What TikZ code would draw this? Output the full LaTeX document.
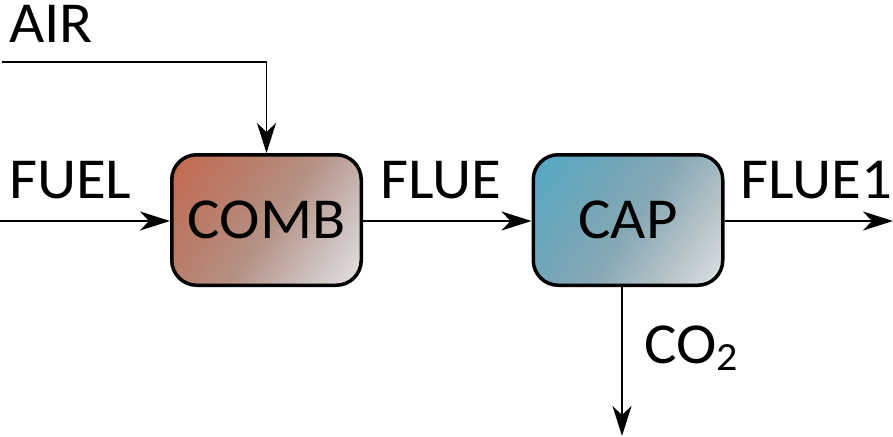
\documentclass[tikz,border=0pt]{standalone}
\usepackage{fontspec}
\setmainfont{Carlito}[FakeStretch=1.05]
\usetikzlibrary{arrows.meta}
\pgfdeclarehorizontalshading{combshade}{100bp}{
  rgb(0bp)=(0.79,0.39,0.27); rgb(18bp)=(0.77,0.42,0.32); rgb(38bp)=(0.72,0.50,0.43);
  rgb(52bp)=(0.71,0.57,0.52); rgb(70bp)=(0.80,0.75,0.74); rgb(85bp)=(0.90,0.89,0.89); rgb(100bp)=(0.95,0.95,0.95)}
\pgfdeclarehorizontalshading{capshade}{100bp}{
  rgb(0bp)=(0.27,0.68,0.81); rgb(18bp)=(0.34,0.66,0.77); rgb(38bp)=(0.45,0.65,0.72);
  rgb(52bp)=(0.53,0.66,0.71); rgb(70bp)=(0.72,0.77,0.79); rgb(85bp)=(0.87,0.89,0.90); rgb(100bp)=(0.94,0.95,0.95)}
\tikzset{
  unit/.style={rectangle, rounded corners=25pt, line width=3.5pt, draw=black,
    minimum width=189.5pt, minimum height=130.5pt, inner sep=0pt,
    font=\fontsize{58}{60}\selectfont},
  combunit/.style={unit, shade, shading=combshade, shading angle=-35},
  capunit/.style={unit, shade, shading=capshade, shading angle=-35},
  lbl/.style={anchor=base west, inner sep=0pt, font=\fontsize{58}{60}\selectfont},
  flow/.style={line width=1.8pt, -{Stealth[length=30pt,width=19pt,inset=9pt]}},
}
\begin{document}
\begin{tikzpicture}[x=1pt,y=1pt]
\useasboundingbox (0,0) rectangle (893,-436);
\node[combunit] (comb) at (266.5,-220) {COMB};
\node[capunit] (cap) at (628,-220) {CAP};
\coordinate (airstart) at (2,-62);
\coordinate (fuelstart) at (0,-221);
\coordinate (flue1end) at (893,-221);
\coordinate (co2end) at (622,-436);
\draw[flow] (airstart) -| (comb.north);
\draw[flow] (fuelstart) -- (fuelstart -| comb.west);
\draw[flow] (comb.east |- fuelstart) -- (cap.west |- fuelstart);
\draw[flow] (cap.east |- flue1end) -- (flue1end);
\draw[flow] (cap.south -| co2end) -- (co2end);
\node[lbl] (air) at (9,-42) {AIR};
\node[lbl] (fuel) at (9,-198) {FUEL};
\node[lbl] (flue) at (380,-198) {FLUE};
\node[lbl] (flue1) at (740,-198) {FLUE1};
\node[lbl] (co2) at (644,-363) {CO\raisebox{-7pt}{\fontsize{40}{40}\selectfont 2}};
\end{tikzpicture}
\end{document}
